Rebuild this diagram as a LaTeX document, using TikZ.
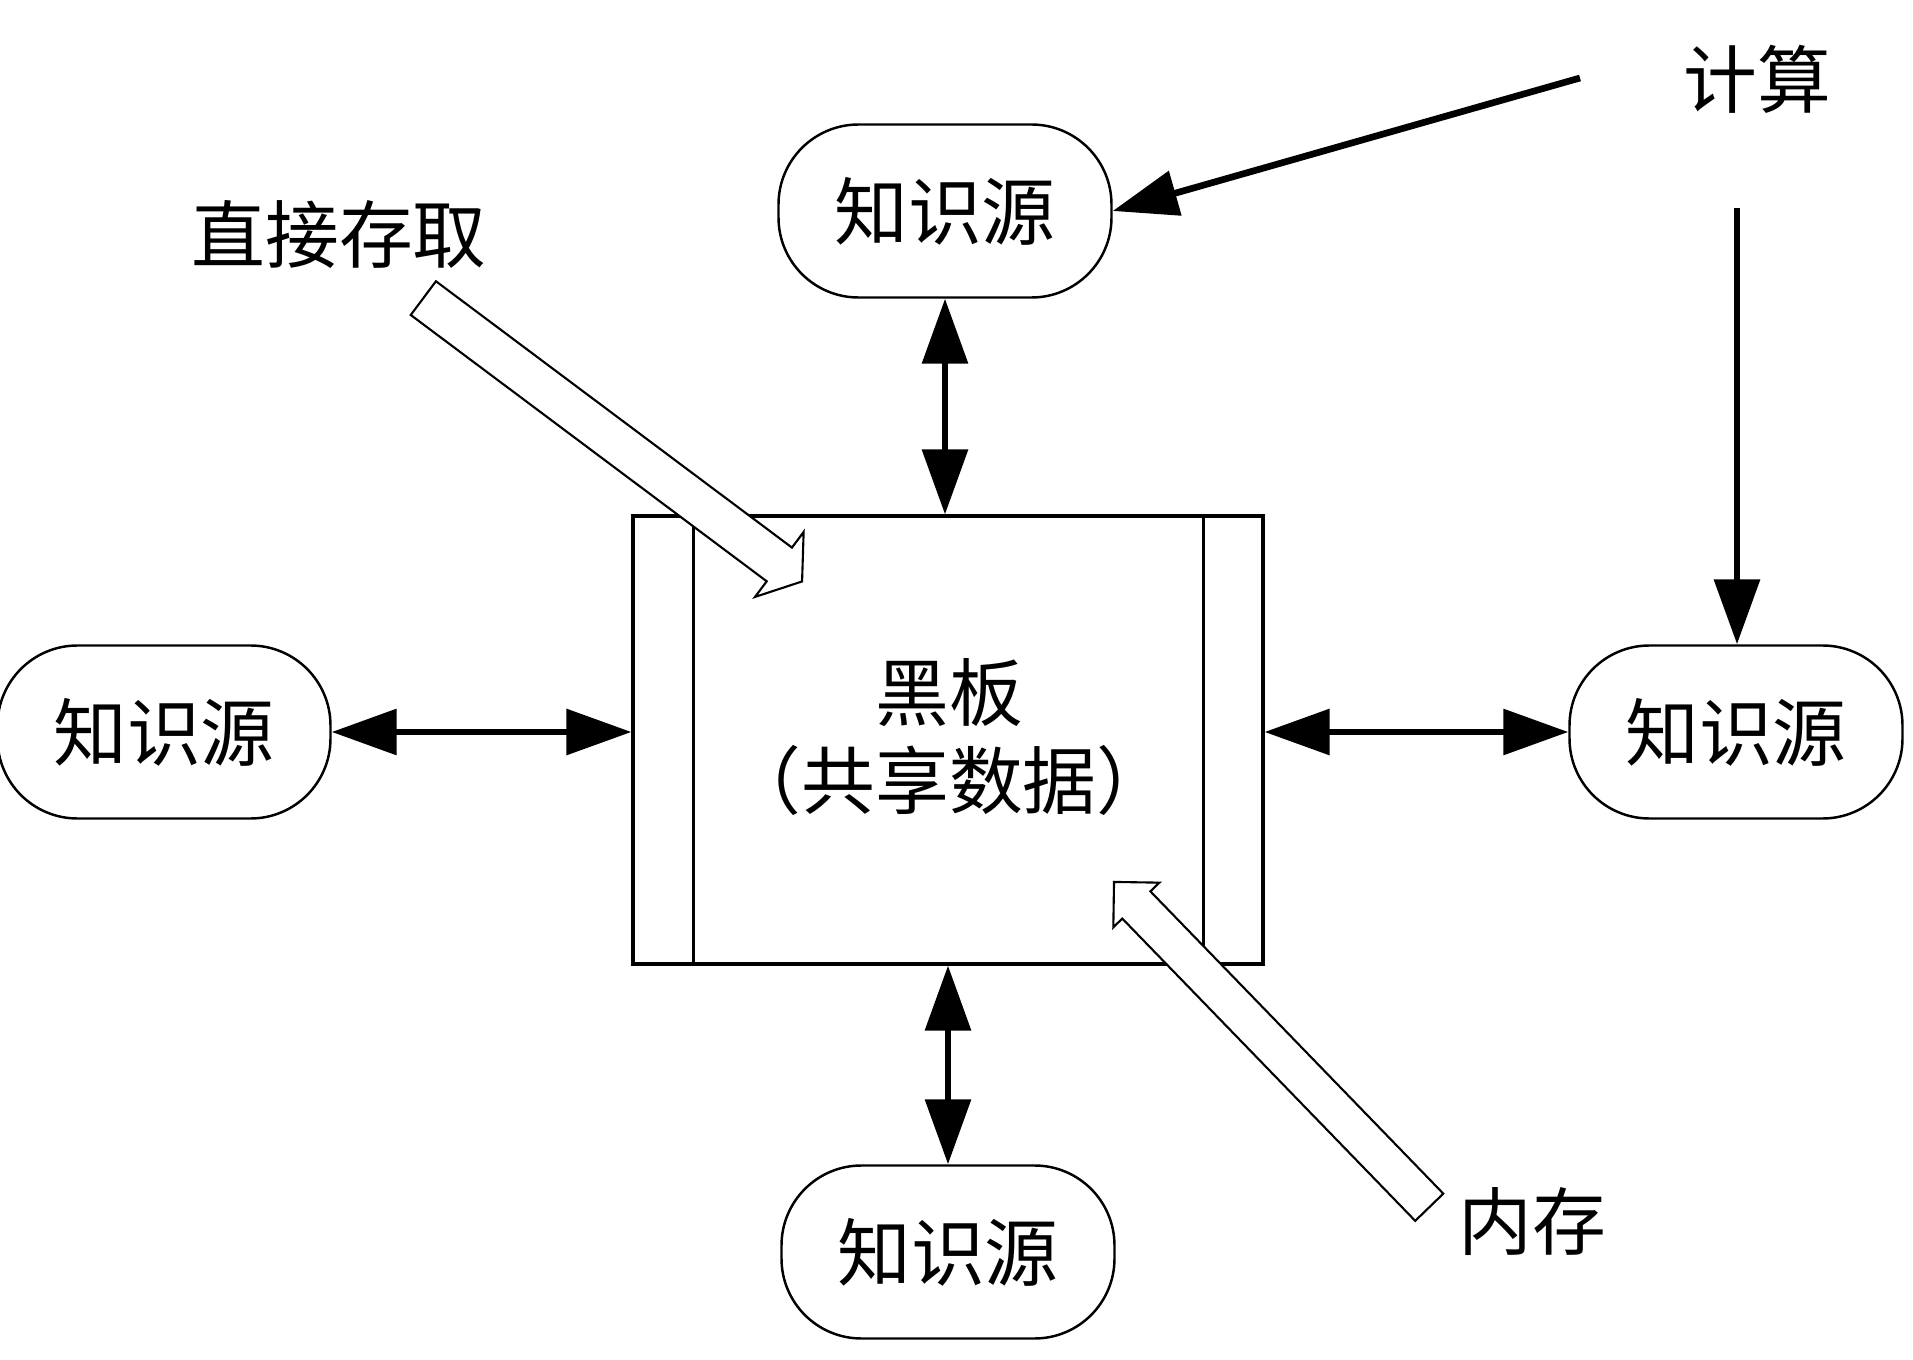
\documentclass[tikz,border=0pt]{standalone}
\usepackage{fontspec}
\newfontfamily\cjk{Noto Sans CJK SC}
\usepackage{tikz}
\usetikzlibrary{calc}
\usetikzlibrary{arrows.meta}
\usetikzlibrary{shapes}
\usetikzlibrary{shapes.arrows}
\usetikzlibrary{positioning}
\tikzset{>={Triangle[length=6.5mm, width=4.5mm]}}
\tikzset{src/.style = {rectangle, rounded corners=8mm, draw=black, line width=0.7pt, minimum width=3.33cm, minimum height=1.73cm, font=\cjk\fontsize{21pt}{25pt}\selectfont}}
\tikzset{lbl/.style = {draw=none, font=\cjk\fontsize{21pt}{25pt}\selectfont}}
\tikzset{link/.style = {<->, line width=1.8pt}}
\tikzset{feed/.style = {->, line width=1.9pt}}
\tikzset{hollow/.style = {single arrow, draw=black, fill=white, line width=0.6pt, inner xsep=0pt, anchor=tail}}

\begin{document}
\begin{tikzpicture}
\useasboundingbox (0,0) rectangle (19.13,-13.60);
% blackboard
\node [rectangle, draw=black, line width=0.9pt, minimum width=6.30cm, minimum height=4.48cm] (B) at (9.48, -7.40) {};
\draw [line width=0.9pt] ($(B.north west)+(0.62,0)$) -- ($(B.south west)+(0.62,0)$);
\draw [line width=0.9pt] ($(B.north east)+(-0.61,0)$) -- ($(B.south east)+(-0.61,0)$);
\node [lbl, align=center] (BT) at (9.49, -7.37) {黑板\\（共享数据）};
% knowledge sources
\node [src] (K1) at (9.45, -2.11) {知识源};
\node [src] (K2) at (1.64, -7.32) {知识源};
\node [src] (K3) at (17.36, -7.32) {知识源};
\node [src] (K4) at (9.48, -12.52) {知识源};
\draw [link] (K1.south) -- (K1.south |- B.north);
\draw [link] (K2.east) -- (K2.east -| B.west);
\draw [link] (K3.west -| B.east) -- (K3.west);
\draw [link] (K4.north |- B.south) -- (K4.north);
% labels
\node [lbl] (C) at (17.57, -0.79) {计算};
\node [lbl] (D) at (3.39, -2.34) {直接存取};
\node [lbl] (M) at (15.32, -12.22) {内存};
\coordinate (c1) at (15.80, -0.78);
\coordinate (c2) at (17.37, -2.08);
\draw [feed] (c1) -- (K1.east);
\draw [feed] (c2) -- (c2 |- K3.north);
% hollow arrows
\coordinate (d1) at (4.225, -2.975);
\coordinate (m1) at (14.30, -12.08);
\node [hollow, rotate=-36.8, minimum height=4.73cm, inner ysep=0.2cm, single arrow head extend=0.195cm, single arrow tip angle=110] (DA) at (d1) {};
\node [hollow, rotate=134.1, minimum height=4.53cm, inner ysep=0.185cm, single arrow head extend=0.125cm, single arrow tip angle=90] (MA) at (m1) {};
\end{tikzpicture}
\end{document}
